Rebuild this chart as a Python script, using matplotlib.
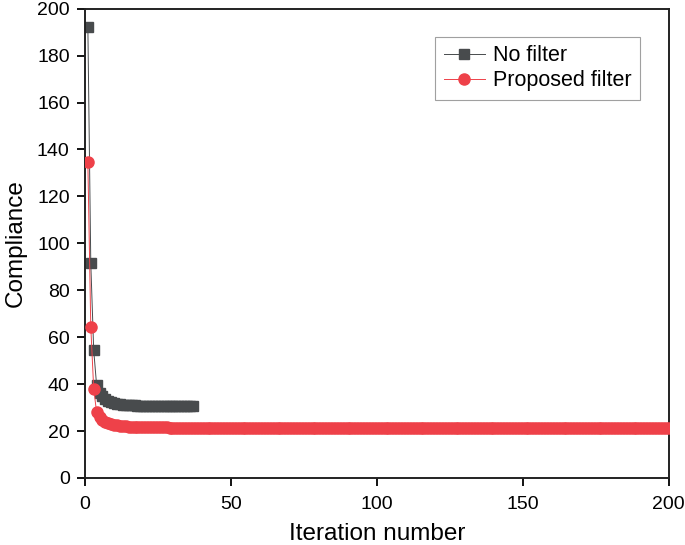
import numpy as np
import matplotlib
matplotlib.use('Agg')
import matplotlib.pyplot as plt

#--------Data--------#
no_filter = [192.3, 91.5, 54.5, 39.5, 36.3, 34.8, 33.7, 33.0, 32.4, 32.0,
             31.7, 31.4, 31.2, 31.1, 31.0, 30.9, 30.9, 30.8, 30.8, 30.8,
             30.7, 30.7, 30.7, 30.7, 30.6, 30.6, 30.6, 30.6, 30.6, 30.6,
             30.5, 30.5, 30.5, 30.5, 30.5, 30.5, 30.5]

proposed = [134.5, 64.5, 38.0, 28.0, 25.8, 24.7, 23.9, 23.3, 22.9, 22.6,
            22.4, 22.2, 22.1, 22.0, 21.9, 21.9, 21.8, 21.8, 21.8, 21.7,
            21.7, 21.7, 21.7, 21.6, 21.6, 21.6, 21.6, 21.6, 21.5, 21.5,
            21.5, 21.5, 21.5, 21.5, 21.5, 21.5, 21.5, 21.5, 21.5, 21.5,
            21.5, 21.5, 21.5, 21.5, 21.5, 21.5, 21.5, 21.5, 21.5, 21.5,
            21.5, 21.5, 21.5, 21.5, 21.5, 21.5, 21.5, 21.5, 21.5, 21.5,
            21.5, 21.5, 21.5, 21.5, 21.5, 21.5, 21.5, 21.5, 21.5, 21.5,
            21.5, 21.5, 21.5, 21.5, 21.5, 21.5, 21.5, 21.5, 21.5, 21.5,
            21.5, 21.5, 21.5, 21.5, 21.5, 21.5, 21.5, 21.5, 21.5, 21.5,
            21.5, 21.5, 21.5, 21.5, 21.5, 21.5, 21.5, 21.5, 21.5, 21.5,
            21.5, 21.5, 21.5, 21.5, 21.5, 21.5, 21.5, 21.5, 21.5, 21.5,
            21.5, 21.5, 21.5, 21.5, 21.5, 21.5, 21.5, 21.5, 21.5, 21.5,
            21.5, 21.5, 21.5, 21.5, 21.5, 21.5, 21.5, 21.5, 21.5, 21.5,
            21.5, 21.5, 21.5, 21.5, 21.5, 21.5, 21.5, 21.5, 21.5, 21.5,
            21.5, 21.5, 21.5, 21.5, 21.5, 21.5, 21.5, 21.5, 21.5, 21.5,
            21.5, 21.5, 21.5, 21.5, 21.5, 21.5, 21.5, 21.5, 21.5, 21.5,
            21.5, 21.5, 21.5, 21.5, 21.5, 21.5, 21.5, 21.5, 21.5, 21.5,
            21.5, 21.5, 21.5, 21.5, 21.5, 21.5, 21.5, 21.5, 21.5, 21.5,
            21.5, 21.5, 21.5, 21.5, 21.5, 21.5, 21.5, 21.5, 21.5, 21.5,
            21.5, 21.5, 21.5, 21.5, 21.5, 21.5, 21.5, 21.5, 21.5, 21.5]

iter_no_filter = np.arange(1, len(no_filter) + 1)
iter_proposed = np.arange(1, len(proposed) + 1)
x_ticks = [0, 50, 100, 150, 200]
y_ticks = [0, 20, 40, 60, 80, 100, 120, 140, 160, 180, 200]
#--------------------#

plt.rcParams['font.family'] = ['Liberation Sans', 'DejaVu Sans']

fig = plt.figure(figsize=(6.85, 5.45), dpi=100)
ax = fig.add_axes([0.124, 0.123, 0.852, 0.861])

ax.plot(iter_no_filter, no_filter, color='#484b4d', lw=0.7, marker='s',
        markersize=7, label='No filter', zorder=2)
ax.plot(iter_proposed, proposed, color='#ee4149', lw=0.7, marker='o',
        markersize=8, label='Proposed filter', zorder=3)

ax.set_xlim(0, 200)
ax.set_ylim(0, 200)
ax.set_xticks(x_ticks)
ax.set_yticks(y_ticks)
ax.tick_params(direction='out', length=6, width=1.3, pad=5, labelsize=14, colors='black')
ax.tick_params(axis='x', pad=7)
for s in ax.spines.values():
    s.set_linewidth(1.4)
    s.set_color('#222222')

ax.set_xlabel('Iteration number', fontsize=17.5, labelpad=7)
ax.set_ylabel('Compliance', fontsize=17.5, labelpad=7)

leg = ax.legend(loc='upper right', bbox_to_anchor=(0.951, 0.940), fontsize=15.5,
                frameon=True, fancybox=False, edgecolor='#888888',
                handlelength=1.9, borderpad=0.38, labelspacing=0.2,
                handletextpad=0.4, borderaxespad=0)
leg.get_frame().set_linewidth(0.8)

plt.savefig('out.png', dpi=100)
